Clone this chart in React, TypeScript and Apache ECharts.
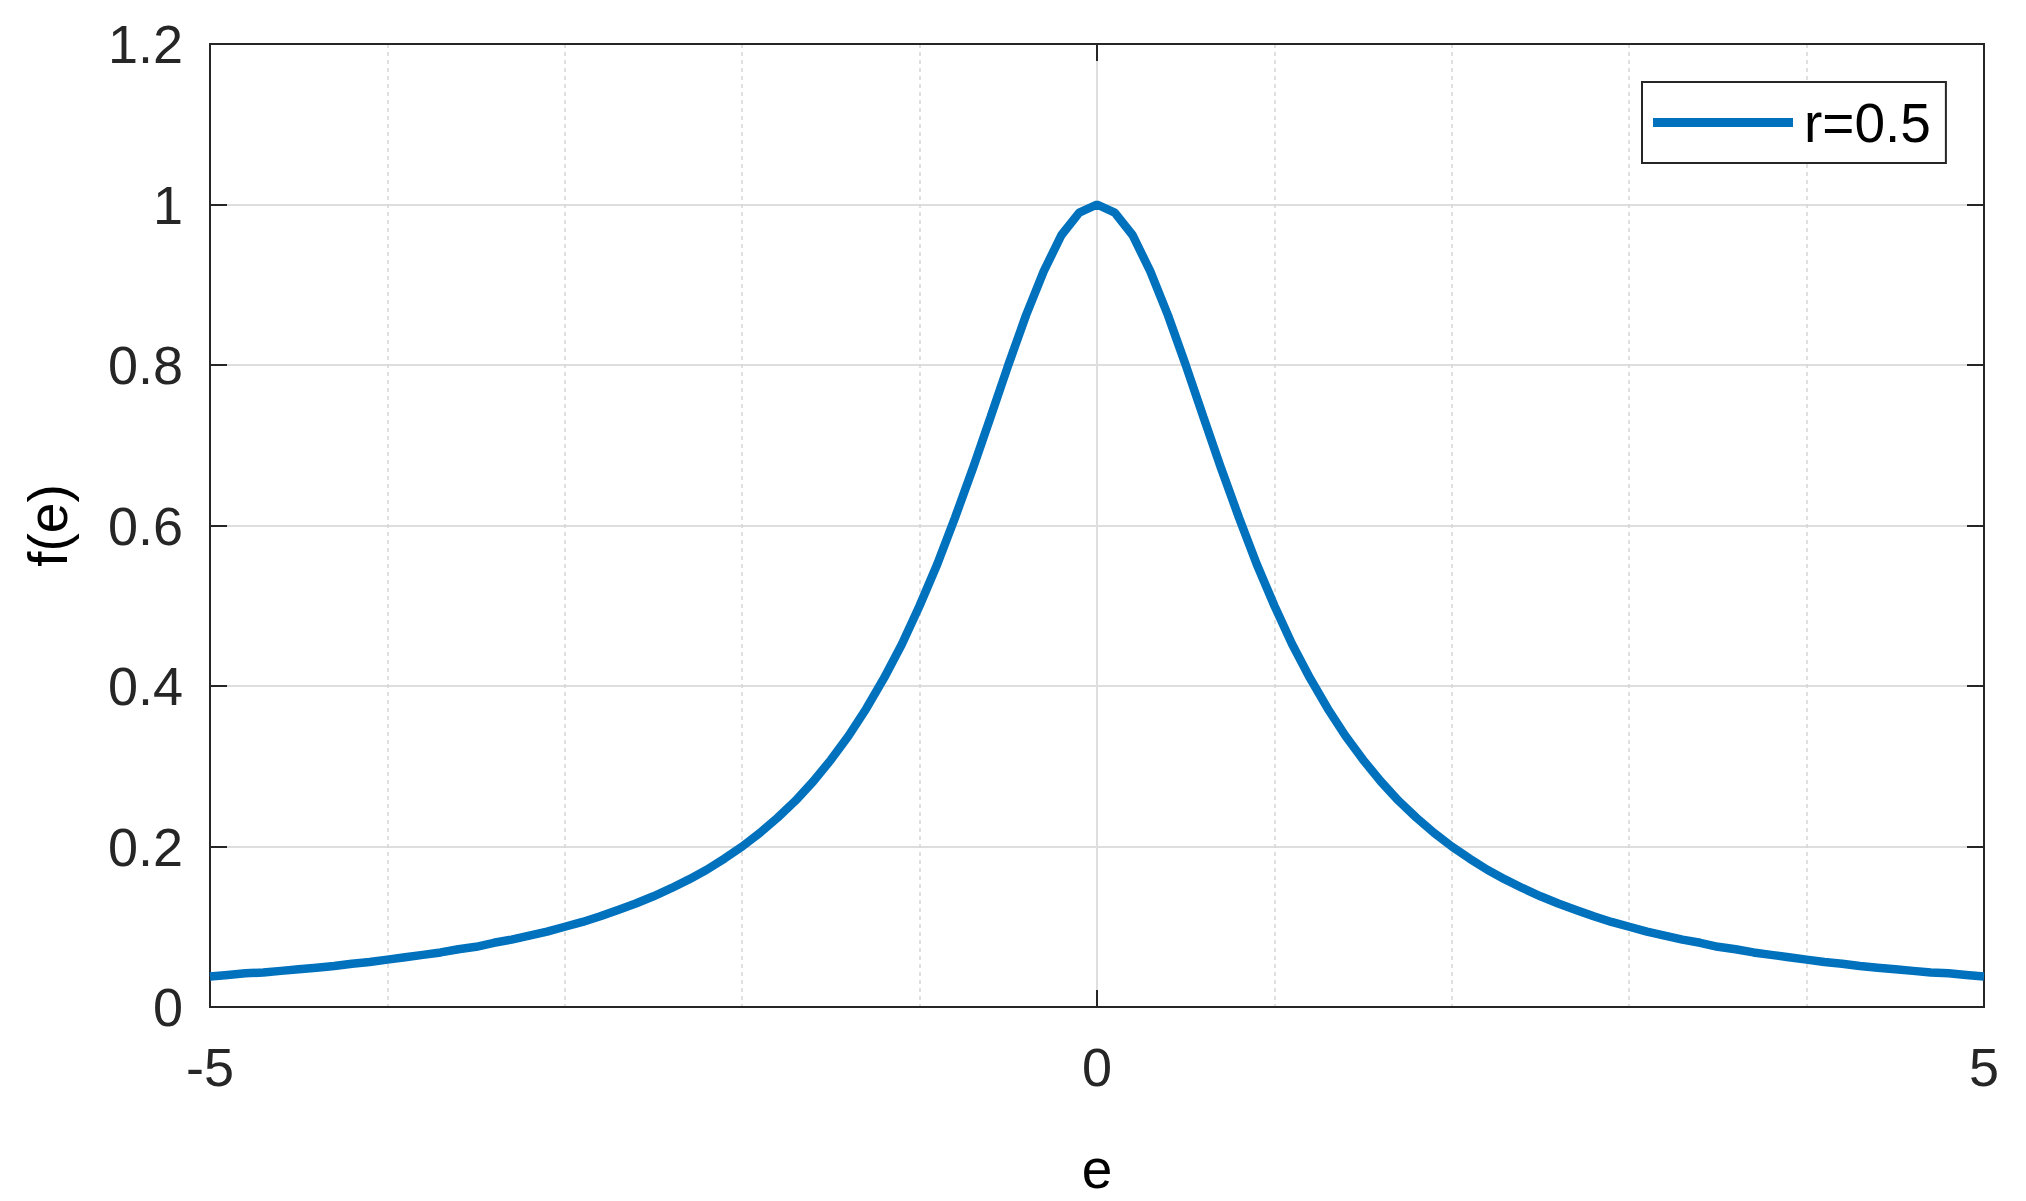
import React, { useEffect, useRef } from "react";
import * as echarts from "echarts";

// e values (x axis)
const eValues: number[] = [
  -5.0, -4.9, -4.8, -4.7, -4.6, -4.5, -4.4, -4.3, -4.2, -4.1,
  -4.0, -3.9, -3.8, -3.7, -3.6, -3.5, -3.4, -3.3, -3.2, -3.1,
  -3.0, -2.9, -2.8, -2.7, -2.6, -2.5, -2.4, -2.3, -2.2, -2.1,
  -2.0, -1.9, -1.8, -1.7, -1.6, -1.5, -1.4, -1.3, -1.2, -1.1,
  -1.0, -0.9, -0.8, -0.7, -0.6, -0.5, -0.4, -0.3, -0.2, -0.1,
  0.0, 0.1, 0.2, 0.3, 0.4, 0.5, 0.6, 0.7, 0.8, 0.9,
  1.0, 1.1, 1.2, 1.3, 1.4, 1.5, 1.6, 1.7, 1.8, 1.9,
  2.0, 2.1, 2.2, 2.3, 2.4, 2.5, 2.6, 2.7, 2.8, 2.9,
  3.0, 3.1, 3.2, 3.3, 3.4, 3.5, 3.6, 3.7, 3.8, 3.9,
  4.0, 4.1, 4.2, 4.3, 4.4, 4.5, 4.6, 4.7, 4.8, 4.9,
  5.0,
];

// f(e) values (r=0.5)
const fValues: number[] = [
  0.038, 0.040, 0.042, 0.043, 0.045, 0.047, 0.049, 0.051, 0.054, 0.056,
  0.059, 0.062, 0.065, 0.068, 0.072, 0.075, 0.080, 0.084, 0.089, 0.094,
  0.100, 0.106, 0.113, 0.121, 0.129, 0.138, 0.148, 0.159, 0.171, 0.185,
  0.200, 0.217, 0.236, 0.257, 0.281, 0.308, 0.338, 0.372, 0.410, 0.452,
  0.500, 0.552, 0.610, 0.671, 0.735, 0.800, 0.862, 0.917, 0.962, 0.990,
  1.000, 0.990, 0.962, 0.917, 0.862, 0.800, 0.735, 0.671, 0.610, 0.552,
  0.500, 0.452, 0.410, 0.372, 0.338, 0.308, 0.281, 0.257, 0.236, 0.217,
  0.200, 0.185, 0.171, 0.159, 0.148, 0.138, 0.129, 0.121, 0.113, 0.106,
  0.100, 0.094, 0.089, 0.084, 0.080, 0.075, 0.072, 0.068, 0.065, 0.062,
  0.059, 0.056, 0.054, 0.051, 0.049, 0.047, 0.045, 0.043, 0.042, 0.040,
  0.038,
];

const seriesName = "r=0.5";
const xAxisName = "e";
const yAxisName = "f(e)";

const FONT = "'Liberation Sans', Arial, Helvetica, sans-serif";
const AXIS_COLOR = "#262626";
const GRID_COLOR = "#dedede";
const MINOR_GRID_COLOR = "#d6d6d6";

export default function App() {
  const ref = useRef<HTMLDivElement>(null);

  useEffect(() => {
    if (!ref.current) return;
    const chart = echarts.init(ref.current, undefined, { renderer: "svg" });
    const data = eValues.map((e, i) => [e, fValues[i]]);

    const tickCommon = {
      show: true,
      inside: true,
      length: 17,
      lineStyle: { color: AXIS_COLOR, width: 2 },
    };

    chart.setOption({
      animation: false,
      backgroundColor: "#ffffff",
      grid: {
        left: 210,
        top: 44,
        right: 2026 - 1984,
        bottom: 1201 - 1008,
        show: true,
        borderColor: AXIS_COLOR,
        borderWidth: 2,
        backgroundColor: "transparent",
      },
      legend: {
        show: true,
        left: 1642,
        top: 82,
        orient: "horizontal",
        padding: [13, 15, 13, 11],
        itemWidth: 140,
        itemHeight: 9,
        itemGap: 8,
        borderColor: AXIS_COLOR,
        borderWidth: 2,
        backgroundColor: "#ffffff",
        textStyle: {
          fontFamily: FONT,
          fontSize: 55,
          color: "#000000",
          padding: [0, 0, 0, 6],
        },
        data: [{ name: seriesName, icon: "rect" }],
      },
      xAxis: [
        {
          type: "value",
          min: -5,
          max: 5,
          interval: 5,
          position: "bottom",
          name: xAxisName,
          nameLocation: "middle",
          nameGap: 134,
          nameTextStyle: { fontFamily: FONT, fontSize: 55, color: "#000000" },
          axisLine: { show: true, onZero: false, lineStyle: { color: AXIS_COLOR, width: 2 } },
          axisTick: tickCommon,
          axisLabel: {
            fontFamily: FONT,
            fontSize: 54,
            color: AXIS_COLOR,
            margin: 33,
          },
          splitLine: { show: true, lineStyle: { color: GRID_COLOR, width: 2 } },
          minorTick: { show: false, splitNumber: 5 },
          minorSplitLine: {
            show: true,
            lineStyle: { color: MINOR_GRID_COLOR, width: 1.5, type: [4, 4] },
          },
        },
        {
          type: "value",
          min: -5,
          max: 5,
          interval: 5,
          position: "top",
          axisLine: { show: true, onZero: false, lineStyle: { color: AXIS_COLOR, width: 2 } },
          axisTick: tickCommon,
          axisLabel: { show: false },
          splitLine: { show: false },
        },
      ],
      yAxis: [
        {
          type: "value",
          min: 0,
          max: 1.2,
          interval: 0.2,
          position: "left",
          name: yAxisName,
          nameLocation: "middle",
          nameRotate: 90,
          nameGap: 135,
          nameTextStyle: { fontFamily: FONT, fontSize: 55, color: "#000000" },
          axisLine: { show: true, onZero: false, lineStyle: { color: AXIS_COLOR, width: 2 } },
          axisTick: tickCommon,
          axisLabel: {
            fontFamily: FONT,
            fontSize: 54,
            color: AXIS_COLOR,
            margin: 27,
            formatter: (v: number) => String(Math.round(v * 10) / 10),
          },
          splitLine: { show: true, lineStyle: { color: GRID_COLOR, width: 2 } },
        },
        {
          type: "value",
          min: 0,
          max: 1.2,
          interval: 0.2,
          position: "right",
          axisLine: { show: true, onZero: false, lineStyle: { color: AXIS_COLOR, width: 2 } },
          axisTick: tickCommon,
          axisLabel: { show: false },
          splitLine: { show: false },
        },
      ],
      series: [
        {
          name: seriesName,
          type: "line",
          xAxisIndex: 0,
          yAxisIndex: 0,
          data,
          showSymbol: false,
          symbol: "none",
          smooth: false,
          lineStyle: { color: "#0072BD", width: 8.5 },
          itemStyle: { color: "#0072BD" },
          z: 5,
        },
      ],
    });

    return () => {
      chart.dispose();
    };
  }, []);

  return (
    <div
      ref={ref}
      style={{
        position: "fixed",
        left: 0,
        top: 0,
        width: 2026,
        height: 1201,
        background: "#ffffff",
      }}
    />
  );
}
